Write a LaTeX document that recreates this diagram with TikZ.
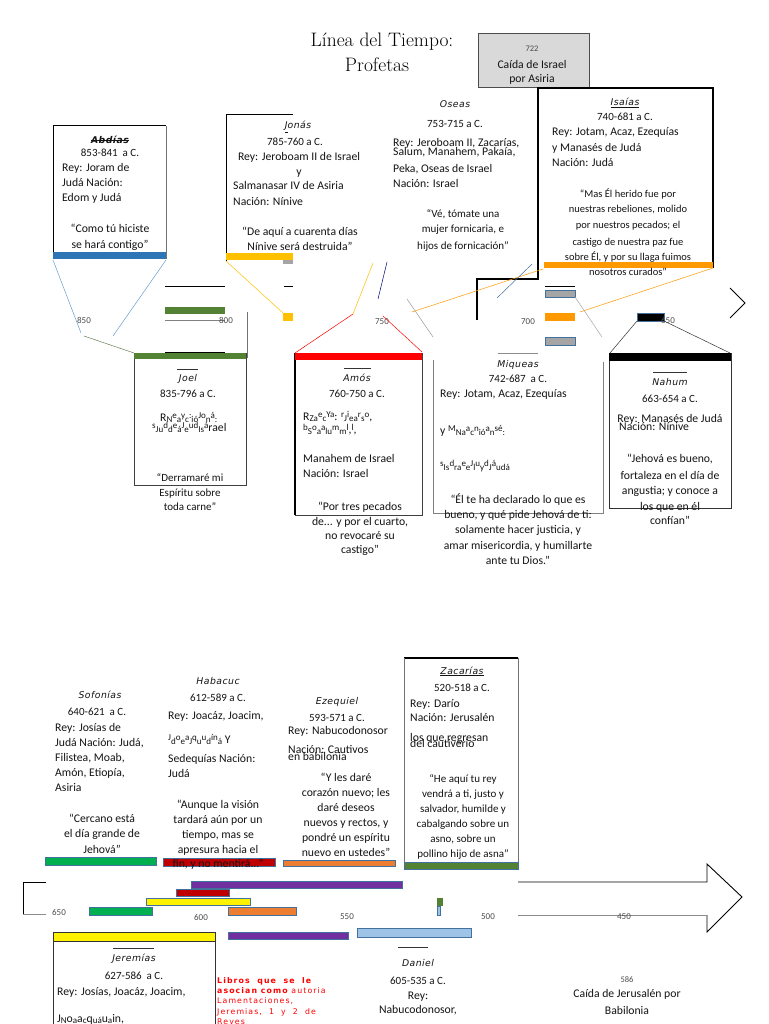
\documentclass[tikz,border=0pt]{standalone}
\usepackage{fontspec}
\newfontfamily\carl{Carlito}
\newfontfamily\nmf{DejaVu Sans}[LetterSpace=5]
\newfontfamily\redf{DejaVu Sans}[LetterSpace=14]
\definecolor{cBlue}{HTML}{2E75B6}
\definecolor{cYel}{HTML}{FFC000}
\definecolor{cOlive}{HTML}{548235}
\definecolor{cOrg}{HTML}{FF9900}
\definecolor{cGray}{HTML}{A5A5A5}
\definecolor{cEdge}{HTML}{41719C}
\definecolor{cGreen}{HTML}{00B050}
\definecolor{cDRed}{HTML}{C00000}
\definecolor{cOrgB}{HTML}{ED7D31}
\definecolor{cPurp}{HTML}{7030A0}
\definecolor{cLBlue}{HTML}{9DC3E6}
\definecolor{cBox}{HTML}{D9D9D9}
\definecolor{cTxt}{HTML}{141414}
\newcommand\gu[1]{\raisebox{2.6pt}{\fontsize{9}{9}\selectfont #1}}
\newcommand\gd[1]{\raisebox{-1.3pt}{\fontsize{9}{9}\selectfont #1}}
\newcommand\myul[1]{\underline{#1}}
\newcommand\mysout[1]{\setbox0\hbox{#1}\rlap{\rule[2.9pt]{\wd0}{0.7pt}}\box0}
\newcommand\block[4]{\foreach \myY/\myT [count=\myI] in {#4}{\node[tx,anchor=#2] (#1\myI) at ({#3},{\myY+4}) {\myT};}}
\begin{document}
\begin{tikzpicture}[x=1pt,y=-1pt,
  tx/.style={inner sep=0pt, font=\carl\fontsize{11.7}{13}\selectfont, text=cTxt},
  ds/.style={font=\carl\fontsize{11}{13}\selectfont},
  qs/.style={font=\carl\fontsize{10.5}{12}\selectfont},
  q11/.style={font=\carl\fontsize{11}{12}\selectfont},
  nm/.style={inner sep=0pt, font=\nmf\itshape\fontsize{9.3}{10}\selectfont, text=cTxt},
  ttl/.style={inner sep=0pt, font=\fontsize{19.5}{22}\selectfont\addfontfeatures{FakeBold=0.6}, text=black},
  axl/.style={inner sep=0pt, font=\carl\fontsize{9}{10}\selectfont, text=black!70},
  sml/.style={inner sep=0pt, font=\carl\fontsize{8.5}{10}\selectfont, text=black!70},
  redt/.style={inner sep=0pt, anchor=base west, font=\redf\fontsize{7.8}{9}\selectfont, text=red},
  frm/.style={line width=1pt, draw=black},
  fthin/.style={line width=0.6pt, draw=black!55},
  bar/.style={fill=#1, draw=cEdge, line width=0.4pt},
  sbar/.style={fill=#1, draw=none},
  cl/.style={line width=0.5pt, draw=#1},
  ovl/.style={line width=0.6pt, draw=black!80}]
\fill[white] (0,0) rectangle (768,1024);
\path[use as bounding box] (0,0) rectangle (768,1024);

% ---------- title ----------
\node[ttl, anchor=base] (title1) at (382,47) {Línea del Tiempo:};
\node[ttl, anchor=base] (title2) at (377,72) {Profetas};

% ---------- 722 box ----------
\node[draw=black!70, fill=cBox, line width=0.9pt, minimum width=111pt, minimum height=54pt, inner sep=0pt] (b722) at (533.5,60) {};
\node[sml, anchor=base] (b722a) at (532,52) {722};
\block{b722t}{base}{532}{65/{Caída de Israel},79/{por Asiria}}

% ---------- Abdías ----------
\draw[frm] (53,259) -- (53,126) -- (166,126);
\draw[fthin] (166,126) -- (166,259);
\draw[sbar=cBlue] (53,252) rectangle (166,259);
\node[nm, anchor=base] (abdN) at (110,144) {\bfseries\mysout{Abdías}};
\block{abdD}{base,ds}{110}{153/{853-841~ a C.}}
\block{abdL}{base west}{62}{168/{Rey: Joram de},183/{Judá Nación:},198/{Edom y Judá}}
\block{abdQ}{base}{110}{229/{“Como tú hiciste},244/{se hará contigo”}}

% ---------- Jonás ----------
\draw[frm] (226,261) -- (226,115) -- (293,115);
\draw[sbar=cYel] (226,253) rectangle (293,260);
\draw[sbar=cGray] (283,260) rectangle (293,264);
\node[nm, anchor=base] (jonN) at (298,129) {\myul{J}onás};
\block{jonD}{base,ds}{295}{142/{785-760 a C.}}
\block{jonR}{base}{299}{157/{Rey: Jeroboam II de Israel},172/{y}}
\block{jonL}{base west}{233}{186/{Salmanasar IV de Asiria},202/{Nación: Nínive}}
\block{jonQ}{base}{300}{232/{“De aquí a cuarenta días},247/{Nínive será destruida”}}

% ---------- Oseas ----------
\node[nm, anchor=base] (oseN) at (455,108) {Oseas};
\block{oseD}{base,ds}{455}{124/{753-715 a C.}}
\block{oseL}{base west}{393}{143/{Rey: Jeroboam II, Zacarías,},152/{Salum, Manahem, Pakaía,},169/{Peka, Oseas de Israel},184/{Nación: Israel}}
\block{oseQ}{base,q11}{463}{214/{“Vé, tómate una},229/{mujer fornicaria, e},245/{hijos de fornicación”}}

% ---------- Isaías ----------
\draw[line width=2.2pt] (538,87) -- (538,279) -- (477,279) -- (477,320);
\draw[line width=1.3pt] (537,88) -- (713,88) -- (713,268);
\draw[sbar=cOrg] (544,262) rectangle (713,268);
\node[nm, anchor=base] (isaN) at (625,106) {\myul{Isaías}};
\block{isaD}{base,ds}{625}{117/{740-681 a C.}}
\block{isaL}{base west}{552}{132/{Rey: Jotam, Acaz, Ezequías},148/{y Manasés de Judá},163/{Nación: Judá}}
\block{isaQ}{base,qs}{628}{194/{“Mas Él herido fue por},209/{nuestras rebeliones, molido},225/{por nuestros pecados; el},241/{castigo de nuestra paz fue},256/{sobre Él, y por su llaga fuimos},271/{nosotros curados”}}

% ---------- upper timeline pieces ----------
\draw[line width=1pt] (165,286) -- (225,286);
\draw[line width=1pt] (284,286) -- (293,286);
\draw[sbar=cOlive] (165,307) rectangle (225,314);
\draw[black!50, line width=1pt] (165,320) -- (225,320);
\draw[sbar=cYel] (283,313) rectangle (293,321);
\draw[fthin, line width=0.4pt] (247,312) -- (247,358);
\draw[line width=1pt] (545,286) -- (575,286);
\draw[bar=cGray] (545,290) rectangle (575,297);
\draw[sbar=cOrg] (545,313) rectangle (575,321);
\draw[bar=cGray] (545,337) rectangle (575,345);
\draw[bar=black] (637,313) rectangle (664,321);
\draw[line width=1pt] (730,288) -- (745,303) -- (730,318);
\node[axl, anchor=center] (a850) at (84,320) {850};
\node[axl, anchor=center] (a800) at (226,320) {800};
\node[axl, anchor=center] (a750) at (382,322) {750};
\node[axl, anchor=center] (a700) at (528,322) {700};
\node[axl, anchor=center] (a650) at (668,320) {650};

% callout lines
\draw[cl=cBlue!70] (53,260) -- (81,333);
\draw[cl=cBlue!70] (166,260) -- (113,336);
\draw[cl=cOlive!60!gray] (84,336) -- (134,353);
\draw[cl=cYel] (226,261) -- (283,313);
\draw[cl=cYel] (373,263) -- (353,314);
\draw[cl=red] (353,314) -- (295,353);
\draw[cl=red] (383,316) -- (422,352);
\draw[cl=blue!50!black] (387,262) -- (378,299);
\draw[cl=black!40] (407,299) -- (433,337);
\draw[cl=cOrg] (412,312) -- (543,269);
\draw[cl=cOrg] (580,312) -- (713,268);
\draw[cl=cEdge] (497,298) -- (532,264);
\draw[cl=black!35] (575,297) -- (602,337);
\draw[cl=black!80] (637,321) -- (610,353);
\draw[cl=black!80] (664,321) -- (730,353);

% ---------- Joel ----------
\draw[fthin, draw=black!75, line width=0.8pt] (134,353) rectangle (246,485);
\draw[sbar=cOlive] (134,353) rectangle (246,359);
\draw[line width=1pt] (165,352) -- (225,352);
\draw[ovl] (177,369) -- (198,369);
\node[nm, anchor=base] (joeN) at (188,381) {Joel};
\block{joeD}{base,ds}{188}{393/{835-796 a C.}}
\node[tx, anchor=base west] (joeG1) at (160,421) {R\gd{N}\gu{e}\gd{a}\gu{y}\gd{c}\gu{:}\gd{ió}\gu{Jo}\gd{n}\gu{á}\gd{:}};
\node[tx, anchor=base west] (joeG2) at (152,431) {\gu{s}\gd{Ju}\gu{d}\gd{d}\gu{e}\gd{á}\gu{J}\gd{e}\gu{ud}\gd{Is}\gu{á}rael};
\block{joeQ}{base,q11}{190}{477/{“Derramaré mi},492/{Espíritu sobre},506/{toda carne”}}

% ---------- Amós ----------
\draw[fthin, draw=black!75, line width=0.8pt] (295,353) rectangle (422,515);
\draw[line width=1.5pt] (295,353) -- (295,515);
\draw[sbar=red] (295,353) rectangle (422,360);
\draw[ovl] (344,368) -- (371,368);
\node[nm, anchor=base] (amoN) at (357,381) {Amós};
\block{amoD}{base,ds}{357}{393/{760-750 a C.}}
\node[tx, anchor=base west] (amoG1) at (303,420) {R\gd{Za}\gu{e}\gd{c}\gu{Ya}: \gu{r}\gd{J}\gu{i}\gd{ea}\gu{r}\gd{s}\gu{o},};
\node[tx, anchor=base west] (amoG2) at (303,433) {\gu{b}\gd{S}\gu{o}\gd{a}\gu{a}\gd{lu}\gu{m}\gd{m}\gu{l},\gu{l},};
\block{amoL}{base west}{303}{458/{Manahem de Israel},473/{Nación: Israel}}
\block{amoQ}{base}{360}{506/{“Por tres pecados},521/{de... y por el cuarto,},535/{no revocaré su},549/{castigo”}}

% ---------- Miqueas ----------
\draw[fthin, draw=black!50] (433,360) -- (433,513) -- (603,513) -- (603,362);
\draw[ovl, draw=black!45] (498,353) -- (538,353);
\node[nm, anchor=base] (miqN) at (518,367) {Miqueas};
\block{miqD}{base,ds}{518}{378/{742-687~ a C.}}
\block{miqL}{base west}{440}{393/{Rey: Jotam, Acaz, Ezequías}}
\node[tx, anchor=base west] (miqG1) at (440,434) {y \gu{M}\gd{Na}\gu{a}\gd{c}\gu{n}\gd{ió}\gu{a}\gd{n}\gu{sé}\gd{:}};
\node[tx, anchor=base west] (miqG2) at (440,469) {\gu{s}\gd{Is}\gu{d}\gd{ra}\gu{e}\gd{e}\gu{J}\gd{l}\gu{u}\gd{y}\gu{d}\gd{J}\gu{á}\gd{udá}};
\block{miqQ}{base}{518}{499/{“Él te ha declarado lo que es},514/{bueno, y qué pide Jehová de ti:},529/{solamente hacer justicia, y},545/{amar misericordia, y humillarte},560/{ante tu Dios.”}}

% ---------- Nahum ----------
\draw[draw=black!80, line width=0.8pt] (609,353) rectangle (731,508);
\draw[sbar=black] (609,353) rectangle (731,361);
\draw[ovl] (653,372) -- (687,372);
\node[nm, anchor=base] (nahN) at (670,385) {Nahum};
\block{nahD}{base,ds}{670}{398/{663-654 a C.}}
\node[tx, anchor=base] (nahR) at (670,422) {Rey: Manasés de Judá};
\node[tx, anchor=base west] (nahNa) at (619,430) {Nación: Nínive};
\block{nahQ}{base}{670}{458/{“Jehová es bueno,},475/{fortaleza en el día de},490/{angustia; y conoce a},506/{los que en él},520/{confían”}}

% ---------- Sofonías ----------
\node[nm, anchor=base] (sofN) at (100,698) {Sofonías};
\block{sofD}{base,ds}{97}{711/{640-621~ a C.}}
\block{sofL}{base west}{55}{727/{Rey: Josías de},742/{Judá Nación: Judá,},757/{Filistea, Moab,},772/{Amón, Etiopía,},787/{Asiria}}
\block{sofQ}{base}{102}{818/{“Cercano está},833/{el día grande de},849/{Jehová”}}
\draw[bar=cGreen] (45,857) rectangle (156,865);

% ---------- Habacuc ----------
\node[nm, anchor=base] (habN) at (218,684) {Habacuc};
\block{habD}{base,ds}{218}{697/{612-589 a C.}}
\block{habL}{base west}{168}{715/{Rey: Joacáz, Joacim,}}
\node[tx, anchor=base west] (habG) at (168,743) {\gu{J}\gd{d}\gu{o}\gd{e}\gu{a}\gd{J}\gu{q}\gd{u}\gu{u}\gd{d}\gu{ín}\gd{á} Y};
\block{habL2}{base west}{168}{758/{Sedequías Nación:},773/{Judá}}
\block{habQ}{base}{218}{804/{“Aunque la visión},819/{tardará aún por un},834/{tiempo, mas se},849/{apresura hacia el}}
\draw[bar=cDRed] (163,858) rectangle (275,866);
\node[tx, anchor=base] (habQ5) at (218,867) {fin, y no mentirá...”};

% ---------- Ezequiel ----------
\node[nm, anchor=base] (ezeN) at (337,704) {Ezequiel};
\block{ezeD}{base,ds}{337}{717/{593-571 a C.}}
\block{ezeR}{base west}{288}{730/{Rey: Nabucodonosor},749/{Nación: Cautivos},756/{en babilonia}}
\block{ezeQ}{base}{346}{777/{“Y les daré},792/{corazón nuevo; les},807/{daré deseos},822/{nuevos y rectos, y},837/{pondré un espíritu},852/{nuevo en ustedes”}}
\draw[bar=cOrgB] (283,860) rectangle (395,866);

% ---------- Zacarías ----------
\draw[line width=1.4pt] (404,658) -- (518,658);
\draw[fthin] (404,658) -- (404,869);
\draw[fthin] (518,658) -- (518,869);
\draw[bar=cOlive] (404,862) rectangle (518,869);
\node[nm, anchor=base] (zacN) at (462,674) {\myul{Zacarías}};
\block{zacD}{base,ds}{462}{687/{520-518 a C.}}
\block{zacL}{base west}{410}{703/{Rey: Darío},717/{Nación: Jerusalén},737/{los que regresan},743/{del cautiverio}}
\block{zacQ}{base,q11}{463}{778/{“He aquí tu rey},793/{vendrá a ti, justo y},808/{salvador, humilde y},823/{cabalgando sobre un},838/{asno, sobre un},853/{pollino hijo de asna”}}

% ---------- lower arrow and bars ----------
\draw[line width=0.9pt] (46,882) -- (23,882) -- (23,914);
\draw[black!45, line width=1pt] (23,914) -- (46,914);
\draw[line width=0.9pt] (518,882) -- (707,882) -- (707,864) -- (742,897) -- (707,932) -- (707,915);
\draw[black!45, line width=1pt] (707,915) -- (518,915);
\draw[bar=cPurp] (191,881) rectangle (402,888);
\draw[bar=cDRed] (176,889) rectangle (229,896);
\draw[bar=yellow] (146,898) rectangle (250,905);
\draw[bar=cGreen] (89,907) rectangle (152,915);
\draw[bar=cOrgB] (228,907) rectangle (296,915);
\draw[sbar=cOlive] (437,898) rectangle (443,906);
\draw[bar=cLBlue] (437,906) rectangle (440,915);
\node[axl, anchor=center] (b650) at (59,912) {650};
\node[axl, anchor=center] (b600) at (201,917) {600};
\node[axl, anchor=center] (b550) at (347,917) {550};
\node[axl, anchor=center] (b500) at (488,917) {500};
\node[axl, anchor=center] (b450) at (624,917) {450};
\draw[bar=cPurp] (228,932) rectangle (348,939);
\draw[bar=cLBlue] (357,928) rectangle (471,937);

% ---------- Jeremías ----------
\draw[draw=black!80, line width=0.8pt] (53,1026) -- (53,932) -- (215,932) -- (215,1026);
\draw[fill=yellow, draw=black!80, line width=0.8pt] (53,932) rectangle (215,941);
\draw[ovl] (113,948) -- (154,948);
\node[nm, anchor=base] (jerN) at (134,961) {Jeremías};
\block{jerD}{base,ds}{134}{975/{627-586~ a C.}}
\block{jerL}{base west}{57}{991/{Rey: Josías, Joacáz, Joacim,}}
\node[tx, anchor=base west] (jerG) at (57,1022) {J\gd{N}o\gd{a}a\gd{c}q\gd{u}\gd{á}u\gd{a}in,};
\node[redt] (lib1) at (217,983) {\bfseries Libros~ que~ se~ le};
\node[redt] (lib2) at (217,993) {\bfseries asocian como \mdseries autoria};
\node[redt] (lib3) at (217,1003) {Lamentaciones,};
\node[redt] (lib4) at (217,1014) {Jeremias, ~1 ~y ~2 ~de};
\node[redt] (lib5) at (217,1024) {Reyes};

% ---------- Daniel ----------
\draw[ovl] (398,947) -- (428,947);
\node[nm, anchor=base] (danN) at (418,966) {Daniel};
\block{danD}{base,ds}{418}{980/{605-535 a C.}}
\block{danR}{base}{418}{995/{Rey:},1009/{Nabucodonosor,}}

% ---------- 586 ----------
\node[sml, anchor=base] (f586) at (627,982) {586};
\block{f586t}{base}{627}{993/{Caída de Jerusalén por},1010/{Babilonia}}
\end{tikzpicture}
\end{document}
